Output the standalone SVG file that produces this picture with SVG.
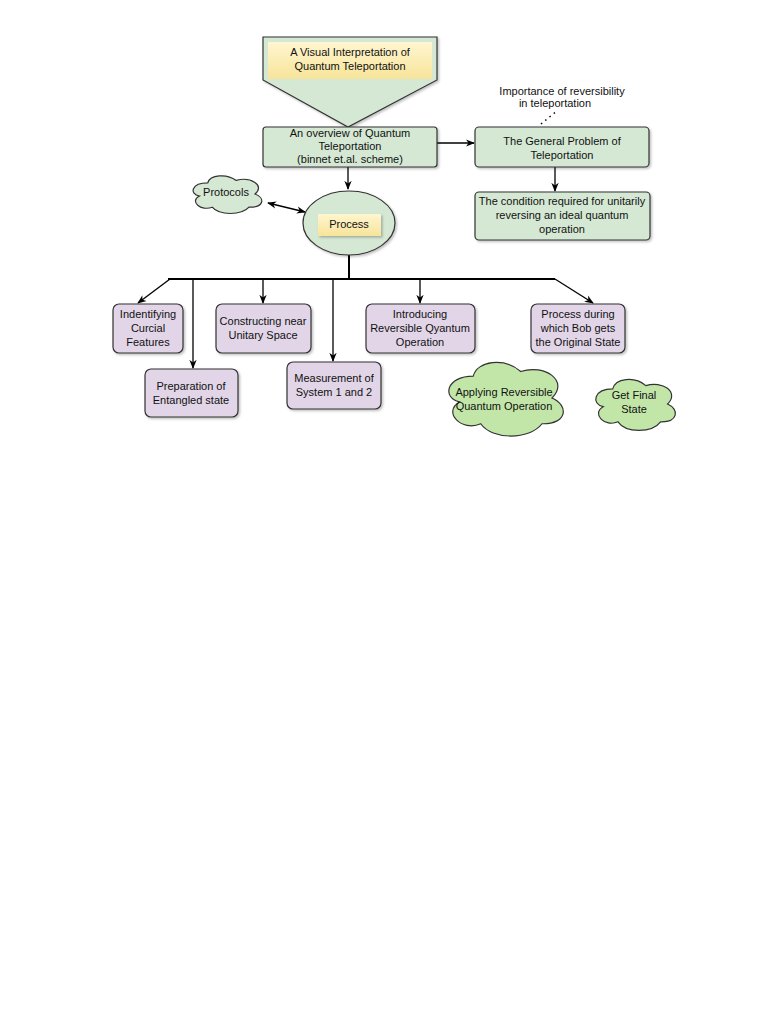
<svg xmlns="http://www.w3.org/2000/svg" width="768" height="1024" viewBox="0 0 768 1024">
<style>
text{font-family:"Liberation Sans",Arial,sans-serif;font-size:11px;fill:#111;text-anchor:middle}
.g{fill:#d5e8d4;stroke:#333;stroke-width:1.2}
.p{fill:#e1d5e7;stroke:#333;stroke-width:1.2}
.y{fill:url(#yl);stroke:none}
.c1{fill:#d5e8d4;stroke:#333;stroke-width:1.2}
.c2{fill:#c2e6a8;stroke:#333;stroke-width:1.2}
.ln{fill:none;stroke:#000;stroke-width:1.3}
.bk{fill:none;stroke:#000;stroke-width:2}
</style>
<defs>
<linearGradient id="yl" x1="0" y1="0" x2="0" y2="1"><stop offset="0" stop-color="#fff6d0"/><stop offset="1" stop-color="#f7e49a"/></linearGradient>
<filter id="sh" x="-10%" y="-10%" width="130%" height="140%"><feDropShadow dx="1.5" dy="1.5" stdDeviation="1" flood-color="#000" flood-opacity="0.25"/></filter>
<marker id="ar" viewBox="0 0 10 10" refX="9" refY="5" markerWidth="7" markerHeight="7" orient="auto-start-reverse"><path d="M0,1 L10,5 L0,9 L3,5 Z" fill="#000"/></marker>
<path id="cloud" vector-effect="non-scaling-stroke" d="M25,22 C3,22 0,50 14,55 C0,68 16,94 31,83 C40,104 70,104 80,83 C100,84 102,60 88,50 C102,28 82,6 63,16 C50,-2 28,2 25,22 Z"/>
</defs>

<g id="connectors">
<line class="ln" x1="348" y1="167" x2="348" y2="189" marker-end="url(#ar)"/>
<line class="ln" x1="437" y1="143" x2="474" y2="143" marker-end="url(#ar)"/>
<line class="ln" x1="555" y1="167" x2="555" y2="191" marker-end="url(#ar)"/>
<line x1="541" y1="124" x2="558" y2="110" stroke="#000" stroke-width="1.5" stroke-dasharray="1.5,4"/>
<line class="ln" x1="268" y1="203" x2="305" y2="212" marker-start="url(#ar)" marker-end="url(#ar)"/>
<line class="bk" x1="349" y1="255" x2="349" y2="279"/>
<line class="bk" x1="168" y1="279" x2="555" y2="279"/>
<line class="ln" x1="170" y1="279" x2="138" y2="303" marker-end="url(#ar)"/>
<line class="ln" x1="193" y1="279" x2="193" y2="368" marker-end="url(#ar)"/>
<line class="ln" x1="263" y1="279" x2="263" y2="303" marker-end="url(#ar)"/>
<line class="ln" x1="333" y1="279" x2="333" y2="361" marker-end="url(#ar)"/>
<line class="ln" x1="420" y1="279" x2="420" y2="303" marker-end="url(#ar)"/>
<line class="ln" x1="555" y1="279" x2="593" y2="303" marker-end="url(#ar)"/>
</g>

<g id="title">
<path class="g" filter="url(#sh)" d="M263,37 L437,37 L437,80 L348,127 L263,80 Z"/>
<rect class="y" x="268" y="42" width="164" height="37"/>
<text x="350" y="56">A Visual Interpretation of</text>
<text x="350" y="70">Quantum Teleportation</text>
</g>

<g id="overview">
<rect class="g" filter="url(#sh)" x="263" y="127" width="174" height="40" rx="3"/>
<text x="350" y="137">An overview of Quantum</text>
<text x="350" y="150">Teleportation</text>
<text x="350" y="163">(binnet et.al. scheme)</text>
</g>

<g id="general">
<rect class="g" filter="url(#sh)" x="475" y="127" width="174" height="40" rx="4"/>
<text x="562" y="145">The General Problem of</text>
<text x="562" y="159">Teleportation</text>
</g>

<g id="importance">
<text x="562" y="95" font-size="9">Importance of reversibility</text>
<text x="555" y="107" font-size="9">in  teleportation</text>
</g>

<g id="condition">
<rect class="g" filter="url(#sh)" x="475" y="192" width="175" height="48" rx="4"/>
<text x="562" y="205">The condition required for unitarily</text>
<text x="562" y="219">reversing an ideal quantum</text>
<text x="562" y="233">operation</text>
</g>

<g id="process">
<ellipse class="g" filter="url(#sh)" cx="349" cy="223" rx="46" ry="32"/>
<rect class="y" filter="url(#sh)" x="318" y="214" width="63" height="22"/>
<text x="349" y="228">Process</text>
</g>

<g id="protocols">
<use href="#cloud" class="c1" transform="translate(189,174) scale(0.75,0.4)"/>
<text x="226" y="196">Protocols</text>
</g>

<g id="identifying">
<rect class="p" filter="url(#sh)" x="113" y="304" width="70" height="49" rx="6"/>
<text x="148" y="318">Indentifying</text>
<text x="148" y="332">Curcial</text>
<text x="148" y="346">Features</text>
</g>

<g id="preparation">
<rect class="p" filter="url(#sh)" x="145" y="369" width="93" height="48" rx="6"/>
<text x="191" y="390">Preparation of</text>
<text x="191" y="404">Entangled state</text>
</g>

<g id="constructing">
<rect class="p" filter="url(#sh)" x="216" y="304" width="95" height="49" rx="6"/>
<text x="263" y="325">Constructing near</text>
<text x="263" y="339">Unitary Space</text>
</g>

<g id="measurement">
<rect class="p" filter="url(#sh)" x="287" y="362" width="94" height="47" rx="6"/>
<text x="334" y="382">Measurement of</text>
<text x="334" y="396">System 1 and 2</text>
</g>

<g id="introducing">
<rect class="p" filter="url(#sh)" x="366" y="304" width="109" height="49" rx="6"/>
<text x="420" y="318">Introducing</text>
<text x="420" y="332">Reversible Qyantum</text>
<text x="420" y="346">Operation</text>
</g>

<g id="bob">
<rect class="p" filter="url(#sh)" x="531" y="304" width="94" height="49" rx="6"/>
<text x="578" y="318">Process during</text>
<text x="578" y="332">which Bob gets</text>
<text x="578" y="346">the Original State</text>
</g>

<g id="applying">
<use href="#cloud" class="c2" transform="translate(442,359) scale(1.25,0.78)"/>
<text x="504" y="396">Applying Reversible</text>
<text x="504" y="410">Quantum Operation</text>
</g>

<g id="final">
<use href="#cloud" class="c2" transform="translate(591,377) scale(0.87,0.54)"/>
<text x="634" y="399">Get Final</text>
<text x="634" y="413">State</text>
</g>
</svg>
